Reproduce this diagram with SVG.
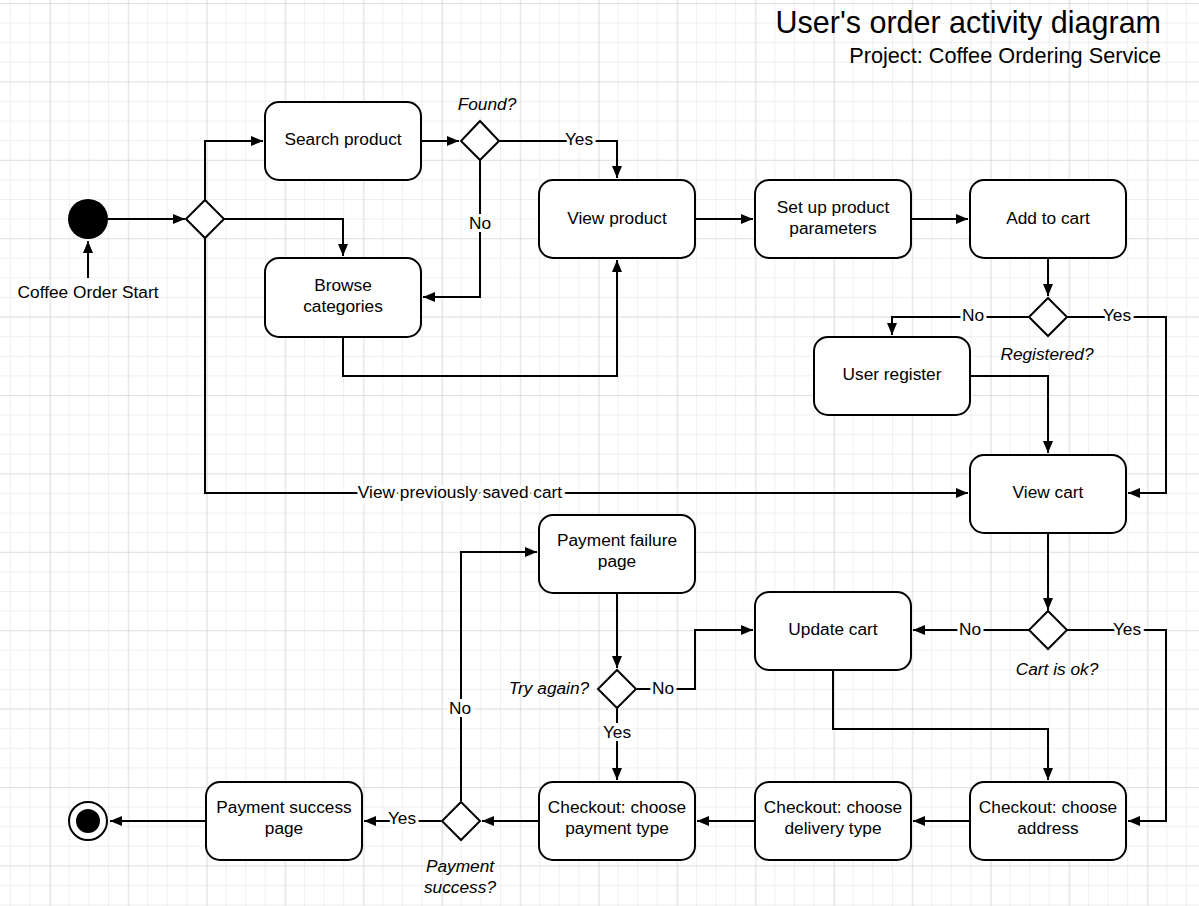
<svg xmlns="http://www.w3.org/2000/svg" width="1199" height="906" viewBox="0 0 1199 906">
<defs>
<pattern id="g" width="19.6" height="19.6" patternUnits="userSpaceOnUse" x="10" y="3"><path d="M0 0H19.6M0 0V19.6" fill="none" stroke="#e2e2e2" stroke-width="1"/></pattern>
<pattern id="G" width="78.4" height="78.4" patternUnits="userSpaceOnUse" x="50" y="3"><path d="M0 0H78.4M0 0V78.4" fill="none" stroke="#d0d0d0" stroke-width="1"/></pattern>
<marker id="a" viewBox="0 0 12 10" refX="12" refY="5" markerWidth="12" markerHeight="10" markerUnits="userSpaceOnUse" orient="auto"><path d="M0 0L12 5L0 10z" fill="#000"/></marker>
</defs>
<style>
.n{fill:#fff;stroke:#000;stroke-width:2}
text{font-family:"Liberation Sans",Arial,sans-serif;font-size:17.3px;fill:#000}
.t{text-anchor:middle}
.i{font-style:italic}
#c path{fill:none;stroke:#000;stroke-width:2;marker-end:url(#a)}
.h{paint-order:stroke;stroke:#fff;stroke-width:6}
</style>
<rect width="1199" height="906" fill="#fff"/>
<rect width="1199" height="906" fill="url(#g)"/>
<rect width="1199" height="906" fill="url(#G)"/>
<text x="1161" y="33" text-anchor="end" style="font-size:30.5px">User's order activity diagram</text>
<text x="1161" y="63" text-anchor="end" style="font-size:21.7px">Project: Coffee Ordering Service</text>
<g id="c">
<path d="M108 219H185"/>
<path d="M88 278V241"/>
<path d="M205 200V141H263"/>
<path d="M224 219H343V256"/>
<path d="M205 238V493H968"/>
<path d="M421 141H459"/>
<path d="M499 141H617V178"/>
<path d="M480 160V297H423"/>
<path d="M343 337V376H617V260"/>
<path d="M695 219H753"/>
<path d="M911 219H968"/>
<path d="M1048 258V296"/>
<path d="M1029 317H892V335"/>
<path d="M1067 317H1166V493H1128"/>
<path d="M970 376H1048V453"/>
<path d="M1048 533V610"/>
<path d="M1029 630H913"/>
<path d="M1067 630H1166V821H1128"/>
<path d="M833 670V729H1048V780"/>
<path d="M970 821H913"/>
<path d="M755 821H697"/>
<path d="M539 821H482"/>
<path d="M441 821H364"/>
<path d="M206 821H110"/>
<path d="M461 801V552H537"/>
<path d="M617 593V668"/>
<path d="M617 709V780"/>
<path d="M637 689H695V630H753"/>
</g>
<g id="labels">
<text class="t h" x="579" y="145">Yes</text>
<text class="t h" x="480" y="229">No</text>
<text class="t h" x="460" y="498">View previously saved cart</text>
<text class="t h" x="973" y="321">No</text>
<text class="t h" x="1117" y="321">Yes</text>
<text class="t h" x="970" y="635">No</text>
<text class="t h" x="1127" y="635">Yes</text>
<text class="t h" x="663" y="694">No</text>
<text class="t h" x="617" y="738">Yes</text>
<text class="t h" x="460" y="714">No</text>
<text class="t h" x="402" y="824">Yes</text>
<text class="t i" x="487" y="110">Found?</text>
<text class="t i" x="1047" y="360">Registered?</text>
<text class="t i" x="1057" y="675">Cart is ok?</text>
<text class="t i" x="549" y="694">Try again?</text>
<text class="t i" x="460" y="872">Payment</text>
<text class="t i" x="460" y="893">success?</text>
<text class="t" x="88" y="298">Coffee Order Start</text>
</g>
<g id="start"><circle cx="88" cy="219" r="20" fill="#000"/></g>
<g id="end"><circle cx="88" cy="821" r="19" class="n"/><circle cx="88" cy="821" r="12" fill="#000"/></g>
<g id="d1"><path class="n" d="M205 200L224 219L205 238L186 219z"/></g>
<g id="d2"><path class="n" d="M480 121L499 141L480 160L461 141z"/></g>
<g id="d3"><path class="n" d="M1048 298L1067 317L1048 336L1029 317z"/></g>
<g id="d4"><path class="n" d="M1048 611L1067 630L1048 649L1029 630z"/></g>
<g id="d5"><path class="n" d="M617 670L636 689L617 708L598 689z"/></g>
<g id="d6"><path class="n" d="M461 802L480 821L461 840L442 821z"/></g>
<g id="search"><rect class="n" x="265" y="102" width="156" height="78" rx="14"/><text class="t" x="343" y="145">Search product</text></g>
<g id="browse"><rect class="n" x="265" y="258" width="156" height="79" rx="14"/><text class="t" x="343" y="291">Browse</text><text class="t" x="343" y="312">categories</text></g>
<g id="view"><rect class="n" x="539" y="180" width="156" height="78" rx="14"/><text class="t" x="617" y="224">View product</text></g>
<g id="setup"><rect class="n" x="755" y="180" width="156" height="78" rx="14"/><text class="t" x="833" y="213">Set up product</text><text class="t" x="833" y="234">parameters</text></g>
<g id="add"><rect class="n" x="970" y="180" width="156" height="78" rx="14"/><text class="t" x="1048" y="224">Add to cart</text></g>
<g id="register"><rect class="n" x="814" y="337" width="156" height="78" rx="14"/><text class="t" x="892" y="380">User register</text></g>
<g id="cart"><rect class="n" x="970" y="455" width="156" height="78" rx="14"/><text class="t" x="1048" y="498">View cart</text></g>
<g id="fail"><rect class="n" x="539" y="515" width="156" height="78" rx="14"/><text class="t" x="617" y="546">Payment failure</text><text class="t" x="617" y="567">page</text></g>
<g id="update"><rect class="n" x="755" y="592" width="156" height="78" rx="14"/><text class="t" x="833" y="635">Update cart</text></g>
<g id="success"><rect class="n" x="206" y="782" width="156" height="78" rx="14"/><text class="t" x="284" y="813">Payment success</text><text class="t" x="284" y="834">page</text></g>
<g id="pay"><rect class="n" x="539" y="782" width="156" height="78" rx="14"/><text class="t" x="617" y="813">Checkout: choose</text><text class="t" x="617" y="834">payment type</text></g>
<g id="deliv"><rect class="n" x="755" y="782" width="156" height="78" rx="14"/><text class="t" x="833" y="813">Checkout: choose</text><text class="t" x="833" y="834">delivery type</text></g>
<g id="addr"><rect class="n" x="970" y="782" width="156" height="78" rx="14"/><text class="t" x="1048" y="813">Checkout: choose</text><text class="t" x="1048" y="834">address</text></g>
</svg>
